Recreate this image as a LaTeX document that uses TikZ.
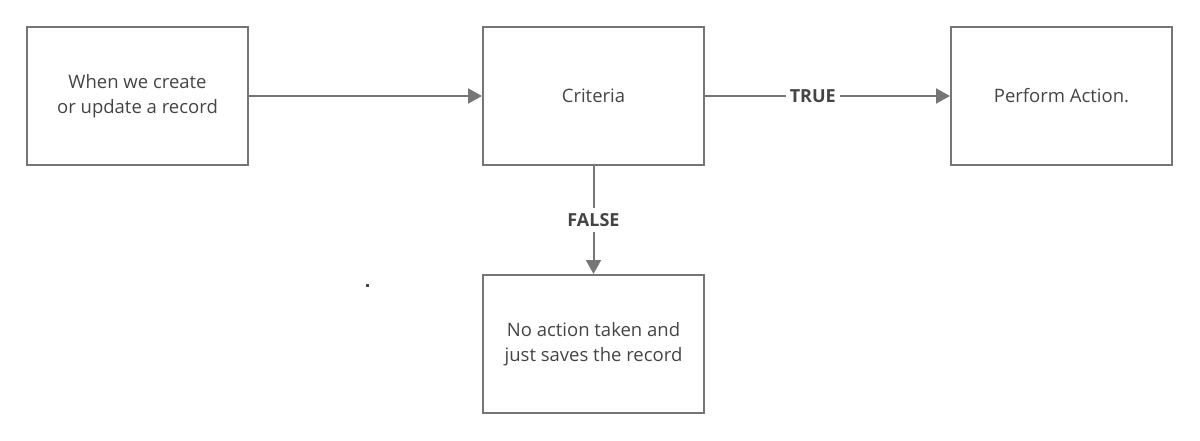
\documentclass[tikz,border=0pt]{standalone}
\usepackage{fontspec}
\setmainfont{Open Sans}
\usetikzlibrary{arrows.meta}
\definecolor{linec}{HTML}{767676}
\definecolor{textc}{HTML}{444444}
\begin{document}
\begin{tikzpicture}[x=1pt,y=-1pt,
  box/.style={draw=linec, line width=2pt, minimum width=221pt, minimum height=138pt, inner sep=0pt, align=center, text=textc, font=\fontsize{18.5}{25}\selectfont},
  conn/.style={draw=linec, line width=2pt, -{Triangle[length=14pt,width=15pt]}},
  lbl/.style={fill=white, text=textc, font=\fontsize{18}{21}\selectfont\bfseries, inner sep=4pt}]
\useasboundingbox (0,0) rectangle (1200,441);
\node[box] (start) at (137.5,96) {When we create\\or update a record};
\node[box] (crit) at (593.5,96) {Criteria};
\node[box] (act) at (1061.5,96) {Perform Action.};
\node[box] (none) at (593.5,344) {No action taken and\\just saves the record};
\draw[conn] (start) -- (crit);
\draw[conn] (crit) -- node[lbl, pos=0.44] {TRUE} (act);
\draw[conn] (crit) -- node[lbl, inner sep=5pt] {FALSE} (none);
\fill[textc] (366,284) rectangle (368.5,286.5);
\end{tikzpicture}
\end{document}
